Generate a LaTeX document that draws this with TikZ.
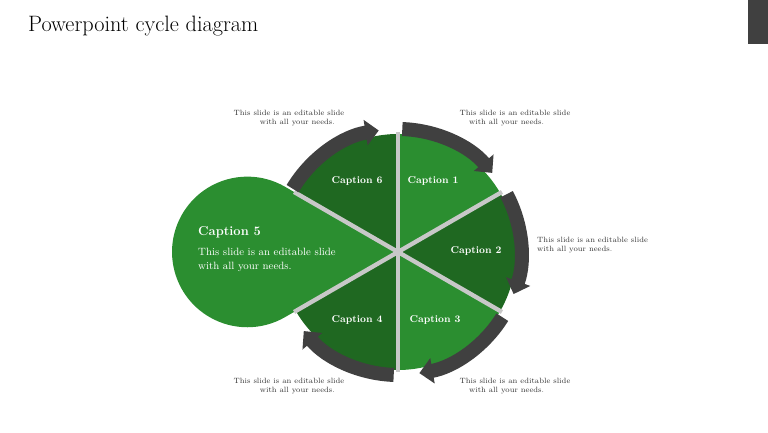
\documentclass[tikz,border=0pt]{standalone}
\usepackage{tikz}
\usetikzlibrary{positioning, arrows.meta, calc}
\definecolor{greenA}{RGB}{43,142,48}
\definecolor{greenB}{RGB}{31,104,33}
\definecolor{ringgray}{RGB}{64,64,64}
\definecolor{gapgray}{RGB}{200,200,200}

\begin{document}
\begin{tikzpicture}[x=0.03cm, y=0.03cm, >=Stealth,
    note/.style={font=\fontsize{6.5}{7.5}\selectfont, text=black!80, align=center, inner sep=0pt},
    caplabel/.style={font=\fontsize{8.5}{10}\selectfont\bfseries, text=white, inner sep=0pt},
    ring/.style={ringgray, line width=0.42cm, -{Triangle[width=0.75cm, length=0.4cm]}}]
\useasboundingbox (0,0) rectangle (768,433);

% Titre
\node[anchor=west, font=\fontsize{19}{22}\selectfont] (title) at (24,407) {Powerpoint cycle diagram};
\fill[ringgray] (748,389) rectangle (768,433);

\coordinate (C) at (398,181);

% Secteurs
\fill[greenA] (C) -- ++(90:118) arc (90:30:118) -- cycle;
\fill[greenB] (C) -- ++(30:118) arc (30:-30:118) -- cycle;
\fill[greenA] (C) -- ++(-30:118) arc (-30:-90:118) -- cycle;
\fill[greenB] (C) -- ++(-90:118) arc (-90:-150:118) -- cycle;
\fill[greenB] (C) -- ++(150:118) arc (150:90:118) -- cycle;

% Goutte (Caption 5)
\fill[greenA] (C) -- ++(150:130.5) arc[start angle=60, end angle=300, radius=75.3] -- cycle;

% Separations
\foreach \a in {90, 30, -30, -90, -150, 150} {
    \draw[gapgray, line width=0.13cm] (C) -- ++(\a:120);
}

% Fleches
\draw[ring] ($(C)+(149:123)$) arc (149:99:123);
\draw[ring] ($(C)+(88:123)$) arc (88:40:123);
\draw[ring] ($(C)+(28:123)$) arc (28:-20:123);
\draw[ring] ($(C)+(-32:123)$) arc (-32:-80:123);
\draw[ring] ($(C)+(-92:123)$) arc (-92:-140:123);

% Labels
\node[caplabel] (c6) at (357,252) {Caption 6};
\node[caplabel] (c1) at (433,252) {Caption 1};
\node[caplabel] (c2) at (476,182) {Caption 2};
\node[caplabel] (c3) at (435,113) {Caption 3};
\node[caplabel] (c4) at (357,113) {Caption 4};
\node[anchor=west, font=\fontsize{11}{13}\selectfont\bfseries, text=white, inner sep=0pt] (c5) at (198,201) {Caption 5};
\node[anchor=north west, font=\fontsize{9}{11.5}\selectfont, text=white, align=left, inner sep=0pt] (c5t) at (198,185) {This slide is an editable slide\\with all your needs.};

\node[note] (n6) at (289,315) {This slide is an editable slide\\\hspace*{2.2em}with all your needs.};
\node[note] (n1) at (515,315) {This slide is an editable slide\\with all your needs.\hspace*{2.2em}};
\node[note, align=left, anchor=west] (n2) at (537,188) {This slide is an editable slide\\with all your needs.};
\node[note] (n4) at (289,47) {This slide is an editable slide\\\hspace*{2.2em}with all your needs.};
\node[note] (n3) at (515,47) {This slide is an editable slide\\with all your needs.\hspace*{2.2em}};

\end{tikzpicture}
\end{document}
